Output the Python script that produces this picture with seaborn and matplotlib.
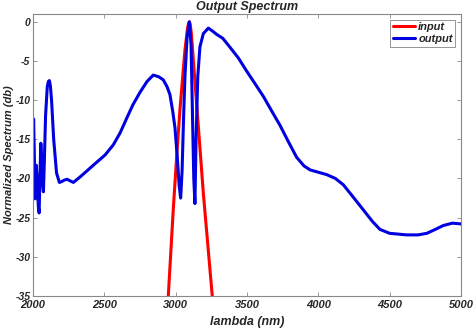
import matplotlib
matplotlib.use("Agg")
import matplotlib.pyplot as plt
import seaborn as sns
import pandas as pd

# ---- data ----
input_x = [2948, 2983, 3007, 3030, 3065, 3082, 3090, 3096, 3102, 3110, 3124, 3159, 3194, 3257]
input_y = [-35.1, -24.0, -17.2, -11.2, -3.6, -1.0, -0.2, 0.0, -0.3, -1.5, -4.9, -13.4, -21.9, -35.1]

output_x = [2000, 2004, 2009, 2014, 2018, 2023, 2030, 2037, 2043, 2049, 2055, 2060, 2066,
            2073, 2080, 2088, 2100, 2108, 2115, 2122, 2130, 2145, 2165, 2185, 2200, 2220,
            2240, 2260, 2283, 2330, 2380, 2423, 2505, 2563, 2610, 2657, 2700, 2750, 2800,
            2843, 2880, 2913, 2940, 2960, 2980, 2995, 3010, 3025, 3035, 3045, 3055, 3065,
            3080, 3096, 3108, 3118, 3127, 3135, 3143, 3155, 3170, 3194, 3229, 3260, 3287,
            3330, 3370, 3439, 3498, 3560, 3614, 3680, 3731, 3790, 3848, 3900, 3942, 4000,
            4058, 4120, 4175, 4250, 4315, 4380, 4432, 4500, 4619, 4700, 4760, 4820, 4876,
            4940, 5000]
output_y = [-21.7, -12.4, -16.5, -22.6, -20.5, -18.3, -20.5, -23.5, -24.4, -19.5, -15.5, -17.5, -20.5,
            -21.7, -17.5, -12.0, -8.3, -7.6, -7.5, -8.2, -10.0, -15.0, -19.3, -20.5, -20.4, -20.2,
            -20.1, -20.3, -20.5, -19.8, -19.0, -18.3, -17.0, -15.7, -14.2, -12.3, -10.6, -9.0, -7.6,
            -6.8, -7.0, -7.4, -8.3, -9.3, -11.5, -13.5, -17.0, -21.0, -22.5, -19.0, -12.5, -7.0,
            -2.0, 0.0, -3.0, -12.0, -20.0, -23.2, -15.0, -7.0, -3.2, -1.5, -0.8, -1.2, -1.6,
            -2.1, -3.0, -4.6, -6.3, -8.0, -9.5, -11.6, -13.2, -15.3, -17.3, -18.4, -18.9, -19.2,
            -19.5, -20.0, -20.8, -22.5, -24.0, -25.5, -26.5, -27.0, -27.2, -27.2, -27.0, -26.5, -26.0,
            -25.7, -25.8]

x_ticks = [2000, 2500, 3000, 3500, 4000, 4500, 5000]
y_ticks = [0, -5, -10, -15, -20, -25, -30, -35]

df_in = pd.DataFrame({"lambda": input_x, "val": input_y})
df_out = pd.DataFrame({"lambda": output_x, "val": output_y})

sns.set_style("white")
plt.rcParams["font.family"] = ["Liberation Sans", "DejaVu Sans"]

fig = plt.figure(figsize=(4.74, 3.32), dpi=100)
ax = fig.add_axes([33 / 474, 1 - 296 / 332, (461 - 33) / 474, (296 - 14) / 332])

sns.lineplot(data=df_in, x="lambda", y="val", ax=ax, color="#ff0000", lw=2.2,
             label="input", sort=False)
sns.lineplot(data=df_out, x="lambda", y="val", ax=ax, color="#0000e0", lw=2.2,
             label="output", sort=False)

ax.set_xlim(2000, 5000)
ax.set_ylim(-35, 1)
ax.set_xticks(x_ticks)
ax.set_yticks(y_ticks)
ax.set_xticklabels([str(t) for t in x_ticks], fontsize=8, fontweight="bold", style="italic")
ax.set_yticklabels([str(t) for t in y_ticks], fontsize=7.5, fontweight="bold", style="italic")
ax.tick_params(direction="in", length=3, width=0.6, color="#888888", pad=2,
               top=True, right=True, bottom=True, left=True)
ax.tick_params(axis="x", pad=3)

for s in ax.spines.values():
    s.set_color("#888888")
    s.set_linewidth(0.8)

ax.set_xlabel("lambda (nm)", fontsize=9, fontweight="bold", style="italic")
ax.xaxis.set_label_coords(0.5, -20 / 282, transform=ax.transAxes)
ax.xaxis.label.set_va("top")
ax.set_ylabel("Normalized Spectrum (db)", fontsize=8, fontweight="bold", style="italic")
ax.yaxis.set_label_coords(-19 / 428, 0.5, transform=ax.transAxes)
ax.set_title("Output Spectrum", fontsize=9, fontweight="bold", style="italic", pad=3)

leg = ax.legend(loc="upper right", prop={"size": 8, "weight": "bold", "style": "italic"},
                frameon=True, fancybox=False, handlelength=2.0, handletextpad=0.3,
                borderpad=0.25, labelspacing=0.15, borderaxespad=0.5)
leg.get_frame().set_edgecolor("#666666")
leg.get_frame().set_linewidth(0.6)

fig.savefig("out.png", dpi=100)
